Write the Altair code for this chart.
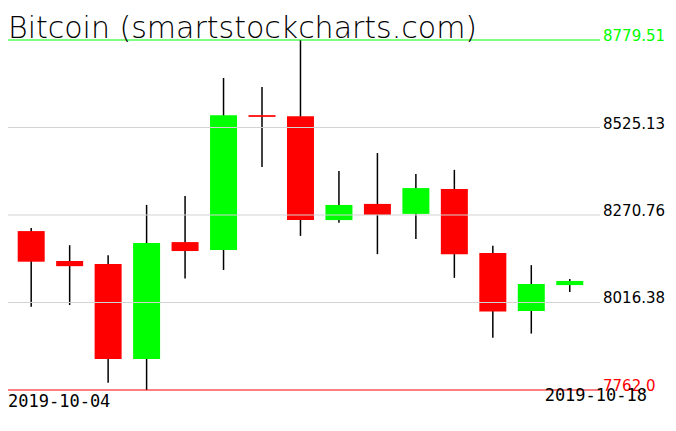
import altair as alt
import pandas as pd

# ---- data ----
dates = ["2019-10-04", "2019-10-05", "2019-10-06", "2019-10-07", "2019-10-08",
         "2019-10-09", "2019-10-10", "2019-10-11", "2019-10-12", "2019-10-13",
         "2019-10-14", "2019-10-15", "2019-10-16", "2019-10-17", "2019-10-18"]
opens = [8224, 8137, 8128, 7852, 8192, 8169, 8561, 8558, 8256, 8303, 8274, 8346, 8160, 7992, 8067]
highs = [8233, 8183, 8154, 8300, 8326, 8669, 8643, 8779.51, 8399, 8451, 8390, 8402, 8181, 8125, 8085]
lows = [8004, 8009, 7783, 7762.0, 8086, 8111, 8410, 8210, 8248, 8157, 8201, 8088, 7914, 7926, 8047]
closes = [8135, 8122, 7852, 8189, 8166, 8561, 8556, 8256, 8300, 8271, 8349, 8157, 7990, 8070, 8079]

level_values = [8779.51, 8525.13, 8270.76, 8016.38, 7762.0]
level_labels = ["8779.51", "8525.13", "8270.76", "8016.38", "7762.0"]
level_colors = ["#00ff00", "#d3d3d3", "#d3d3d3", "#d3d3d3", "#ff0000"]
label_colors = ["#00ff00", "#000000", "#000000", "#000000", "#ff0000"]

title_text = "Bitcoin (smartstockcharts.com)"
first_date_label = dates[0]
last_date_label = dates[-1]

# ---- tables ----
df = pd.DataFrame({
    "date": dates,
    "i": list(range(len(dates))),
    "open": opens,
    "high": highs,
    "low": lows,
    "close": closes,
})
lv = pd.DataFrame({"level": level_values, "label": level_labels,
                   "lcol": level_colors, "tcol": label_colors})

PW, PH = 592, 382
xscale = alt.Scale(domain=[-0.4728, 14.656], nice=False, zero=False)
yscale = alt.Scale(domain=[7762.0, 8872.54], nice=False, zero=False)

base = alt.Chart(df)

wicks = base.mark_rule(color="black", strokeWidth=1.5).encode(
    x=alt.X("i:Q", scale=xscale, axis=None),
    y=alt.Y("low:Q", scale=yscale, axis=None),
    y2="high:Q",
)

bodies = base.mark_bar(size=27).encode(
    x=alt.X("i:Q", scale=xscale, axis=None),
    y=alt.Y("open:Q", scale=yscale, axis=None),
    y2="close:Q",
    color=alt.condition("datum.close >= datum.open", alt.value("#00ff00"), alt.value("#ff0000")),
    tooltip=["date:N", "open:Q", "high:Q", "low:Q", "close:Q"],
)

lines = alt.Chart(lv).mark_rule(strokeWidth=1).encode(
    y=alt.Y("level:Q", scale=yscale, axis=None),
    color=alt.Color("lcol:N", scale=None),
)

ylabels = alt.Chart(lv).mark_text(
    align="left", baseline="alphabetic", font="DejaVu Sans", fontSize=15, dy=1
).encode(
    x=alt.value(595),
    y=alt.Y("level:Q", scale=yscale, axis=None),
    text="label:N",
    color=alt.Color("tcol:N", scale=None),
)

title = alt.Chart(pd.DataFrame({"t": [title_text]})).mark_text(
    align="left", baseline="alphabetic", font="DejaVu Sans", fontSize=30, fontWeight=200,
    color="black"
).encode(x=alt.value(0), y=alt.value(30), text="t:N")

xl1 = alt.Chart(pd.DataFrame({"t": [first_date_label]})).mark_text(
    align="left", baseline="alphabetic", font="DejaVu Sans Mono", fontSize=17, color="black"
).encode(x=alt.value(0), y=alt.value(399), text="t:N")

xl2 = alt.Chart(pd.DataFrame({"t": [last_date_label]})).mark_text(
    align="right", baseline="alphabetic", font="DejaVu Sans Mono", fontSize=17, color="black"
).encode(x=alt.value(639), y=alt.value(393), text="t:N")

chart = alt.layer(wicks, bodies, lines, ylabels, title, xl1, xl2).properties(
    width=PW, height=PH,
    autosize=alt.AutoSizeParams(type="none"),
    padding={"left": 0, "top": 0, "right": 68, "bottom": 20},
    background="white",
).configure_view(stroke=None)

chart.save("out.html", embed_options={"renderer": "svg", "actions": False})
